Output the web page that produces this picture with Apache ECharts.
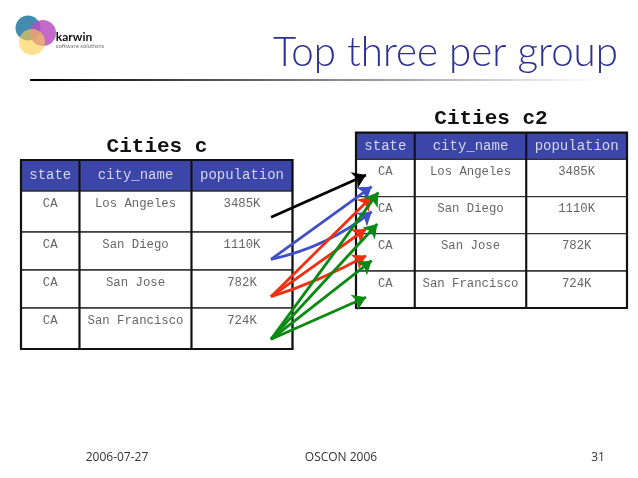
<!DOCTYPE html>
<html lang="en">
<head>
  <meta charset="UTF-8">
  <title>Top three per group</title>
  <script src="https://cdn.jsdelivr.net/npm/echarts@6/dist/echarts.min.js"></script>
  <style>
    html, body { margin: 0; padding: 0; background: #fff; }
    #main { width: 638px; height: 478px; }
  </style>
</head>
<body>
<div id="main"></div>
<script>
  var columns = ['state', 'city_name', 'population'];
  var states = ['CA', 'CA', 'CA', 'CA'];
  var cities = ['Los Angeles', 'San Diego', 'San Jose', 'San Francisco'];
  var populations = ['3485K', '1110K', '782K', '724K'];

  // table edges
  var leftColEdges = [21, 79.5, 191.5, 292.5];
  var leftRowEdges = [160, 191, 232, 270, 308, 349];
  var rightColEdges = [356, 414.7, 526.3, 627];
  var rightRowEdges = [132.7, 159.3, 196.7, 233.7, 271, 308];

  // arrows: from, to, curve
  var arrowBlack = [[[271, 217.3], [366, 175], 0]];
  var arrowsBlue = [[[271, 259.3], [371.7, 186.7], 0], [[271, 259.3], [371.7, 211.7], -0.12]];
  var arrowsRed = [[[271, 296.7], [371.7, 196.7], 0], [[271, 296.7], [366, 229], 0], [[271, 296.7], [366, 255.7], -0.05]];
  var arrowsGreen = [[[271, 339.3], [378.3, 192.3], 0], [[271, 339.3], [377.3, 224], 0], [[271, 339.3], [371.7, 260.7], 0], [[271, 339.3], [366, 297.3], 0]];

  var textLabels = [
    ['Top three per group', 445.5, 53, 40.3, 'Lato', 300, '#2e3192'],
    ['Cities c', 157, 147, 21, 'Liberation Mono', 'bold', '#111'],
    ['Cities c2', 491, 119, 21, 'Liberation Mono', 'bold', '#111'],
    ['karwin', 74, 37.5, 12, 'Lato', 'bold', '#111'],
    ['software solutions', 80, 46, 6, 'Lato', 'normal', '#777'],
    ['2006-07-27', 117, 458, 12, 'Open Sans', 'normal', '#333'],
    ['OSCON 2006', 341, 458, 12, 'Open Sans', 'normal', '#333'],
    ['31', 598, 458, 12, 'Open Sans', 'normal', '#333']
  ];

  var logoCircles = [
    [28, 28, 25, '#2f7fa6', 0.9],
    [43, 33, 26, '#b94fc0', 0.85],
    [32, 42, 26, '#fbcf4e', 0.62]
  ];

  function buildCells(colEdges, rowEdges) {
    var cells = [];
    for (var r = 0; r < rowEdges.length - 1; r++) {
      var row = r == 0 ? columns : [states[r - 1], cities[r - 1], populations[r - 1]];
      for (var c = 0; c < 3; c++) {
        cells.push([colEdges[c], rowEdges[r], colEdges[c + 1], rowEdges[r + 1], r, row[c]]);
      }
    }
    return cells;
  }

  function cellSeries(colEdges, rowEdges) {
    var cells = buildCells(colEdges, rowEdges);
    return {
      type: 'custom',
      coordinateSystem: 'cartesian2d',
      silent: true,
      z: 2,
      data: cells.map(function (c) { return c.slice(0, 5); }),
      encode: { x: [0, 2], y: [1, 3] },
      renderItem: function (params, api) {
        var p0 = api.coord([api.value(0), api.value(1)]);
        var p1 = api.coord([api.value(2), api.value(3)]);
        var r = api.value(4);
        var yText = r == 0 ? (p0[1] + p1[1]) / 2 : p0[1] + 12.5;
        return {
          type: 'group',
          children: [
            {
              type: 'rect',
              shape: { x: p0[0], y: p0[1], width: p1[0] - p0[0], height: p1[1] - p0[1] },
              style: { fill: r == 0 ? '#3c46a8' : '#fff', stroke: '#333', lineWidth: 1.3 }
            },
            {
              type: 'text',
              style: {
                text: cells[params.dataIndex][5], x: (p0[0] + p1[0]) / 2, y: yText,
                align: 'center', verticalAlign: 'middle',
                fontFamily: 'Liberation Mono', fontSize: r == 0 ? 14 : 12.3,
                fill: r == 0 ? '#d4d6ec' : '#666'
              }
            }
          ]
        };
      }
    };
  }

  // outer frame of a table, drawn heavier than the inner rules
  function frameSeries(colEdges, rowEdges) {
    return {
      type: 'custom',
      coordinateSystem: 'cartesian2d',
      silent: true,
      z: 3,
      data: [[colEdges[0], rowEdges[0], colEdges[3], rowEdges[5]]],
      renderItem: function (params, api) {
        var p0 = api.coord([api.value(0), api.value(1)]);
        var p1 = api.coord([api.value(2), api.value(3)]);
        var kids = [{
          type: 'rect',
          shape: { x: p0[0], y: p0[1], width: p1[0] - p0[0], height: p1[1] - p0[1] },
          style: { fill: 'none', stroke: '#111', lineWidth: 2.2 }
        }];
        [colEdges[1], colEdges[2]].forEach(function (x) {
          var px = api.coord([x, 0])[0];
          kids.push({ type: 'line', shape: { x1: px, y1: p0[1], x2: px, y2: p1[1] }, style: { stroke: '#111', lineWidth: 2 } });
        });
        return { type: 'group', children: kids };
      }
    };
  }

  function arrowSeries(list, color) {
    return {
      type: 'lines',
      coordinateSystem: 'cartesian2d',
      silent: true,
      z: 5,
      symbol: ['none', 'arrow'],
      symbolSize: 13,
      lineStyle: { color: color, width: 2.8, opacity: 1 },
      data: list.map(function (a) {
        return { coords: [a[0], a[1]], lineStyle: { curveness: a[2] } };
      })
    };
  }

  var option = {
    animation: false,
    backgroundColor: '#fff',
    grid: { left: 0, right: 0, top: 0, bottom: 0 },
    xAxis: { type: 'value', min: 0, max: 638, show: false },
    yAxis: { type: 'value', min: 0, max: 478, inverse: true, show: false },
    series: [
      {
        type: 'scatter',
        silent: true,
        z: 1,
        data: logoCircles.map(function (c) {
          return { value: [c[0], c[1]], symbolSize: c[2], itemStyle: { color: c[3], opacity: c[4] } };
        })
      },
      {
        // gradient rule under the title
        type: 'custom',
        coordinateSystem: 'cartesian2d',
        silent: true,
        z: 1,
        data: [[30, 80, 600, 80]],
        renderItem: function (params, api) {
          var p0 = api.coord([api.value(0), api.value(1)]);
          var p1 = api.coord([api.value(2), api.value(3)]);
          return {
            type: 'rect',
            shape: { x: p0[0], y: p0[1] - 1, width: p1[0] - p0[0], height: 2 },
            style: {
              fill: new echarts.graphic.LinearGradient(0, 0, 1, 0, [
                { offset: 0, color: 'rgba(0,0,0,1)' },
                { offset: 1, color: 'rgba(0,0,0,0)' }
              ])
            }
          };
        }
      },
      cellSeries(leftColEdges, leftRowEdges),
      cellSeries(rightColEdges, rightRowEdges),
      frameSeries(leftColEdges, leftRowEdges),
      frameSeries(rightColEdges, rightRowEdges),
      {
        type: 'custom',
        coordinateSystem: 'cartesian2d',
        silent: true,
        z: 4,
        data: textLabels.map(function (t) { return [t[1], t[2]]; }),
        renderItem: function (params, api) {
          var t = textLabels[params.dataIndex];
          var p = api.coord([api.value(0), api.value(1)]);
          return {
            type: 'text',
            style: {
              text: t[0], x: p[0], y: p[1], align: 'center', verticalAlign: 'middle',
              fontSize: t[3], fontFamily: t[4], fontWeight: t[5], fill: t[6]
            }
          };
        }
      },
      arrowSeries(arrowBlack, '#000'),
      arrowSeries(arrowsBlue, '#3f4fc8'),
      arrowSeries(arrowsRed, '#f03010'),
      arrowSeries(arrowsGreen, '#0a8a12')
    ]
  };

  var chart = echarts.init(document.getElementById('main'));
  chart.setOption(option);
</script>
</body>
</html>
